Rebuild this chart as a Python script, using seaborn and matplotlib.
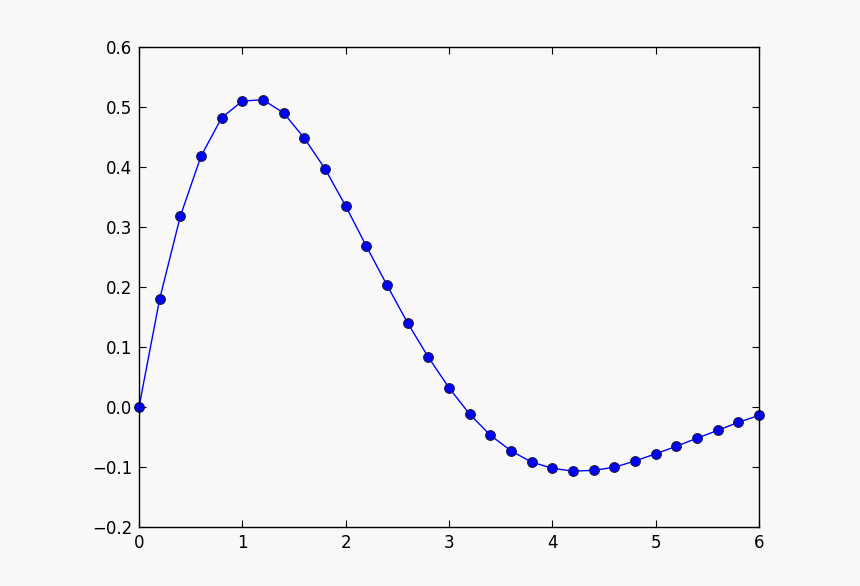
import numpy as np
import pandas as pd
import seaborn as sns
import matplotlib
matplotlib.use("Agg")
import matplotlib.pyplot as plt

x_vals = [0.0, 0.2, 0.4, 0.6, 0.8, 1.0, 1.2, 1.4, 1.6, 1.8, 2.0,
          2.2, 2.4, 2.6, 2.8, 3.0, 3.2, 3.4, 3.6, 3.8, 4.0,
          4.2, 4.4, 4.6, 4.8, 5.0, 5.2, 5.4, 5.6, 5.8, 6.0]
y_vals = [0.0, 0.180, 0.318, 0.418, 0.482, 0.510, 0.512, 0.490, 0.448, 0.397, 0.335,
          0.268, 0.203, 0.140, 0.083, 0.032, -0.012, -0.047, -0.073, -0.092, -0.102,
          -0.107, -0.1055, -0.1005, -0.090, -0.078, -0.0655, -0.052, -0.039, -0.0255, -0.014]
x_ticks = [0, 1, 2, 3, 4, 5, 6]
y_ticks = [-0.2, -0.1, 0.0, 0.1, 0.2, 0.3, 0.4, 0.5, 0.6]

df = pd.DataFrame({"x": x_vals, "y": y_vals})

sns.set_style("ticks")
plt.rcParams["font.family"] = ["DejaVu Sans"]
bg = "#f8f8f8"

fig = plt.figure(figsize=(8.6, 5.86), dpi=100, facecolor=bg)
ax = fig.add_axes([139 / 860, 1 - 527 / 586, 620 / 860, 480 / 586])
ax.set_facecolor(bg)

sns.lineplot(data=df, x="x", y="y", ax=ax, color="blue", linewidth=1,
             marker="o", markersize=7, markerfacecolor="blue",
             markeredgecolor="#1a1a40", markeredgewidth=0.8)

ax.set_xlim(0, 6)
ax.set_ylim(-0.2, 0.6)
ax.set_xticks(x_ticks)
ax.set_yticks(y_ticks)
ax.set_xticklabels([str(t) for t in x_ticks])
ax.set_yticklabels(["\u22120.2" if t == -0.2 else ("\u22120.1" if t == -0.1 else f"{t:.1f}") for t in y_ticks])
ax.set_xlabel("")
ax.set_ylabel("")
ax.tick_params(direction="in", length=5, width=0.8, top=True, right=True,
               labelsize=12, colors="black", pad=5)
for s in ax.spines.values():
    s.set_visible(True)
    s.set_color("black")
    s.set_linewidth(1)
for m in ax.lines:
    m.set_clip_on(False)

fig.savefig("out.png", dpi=100, facecolor=bg)
